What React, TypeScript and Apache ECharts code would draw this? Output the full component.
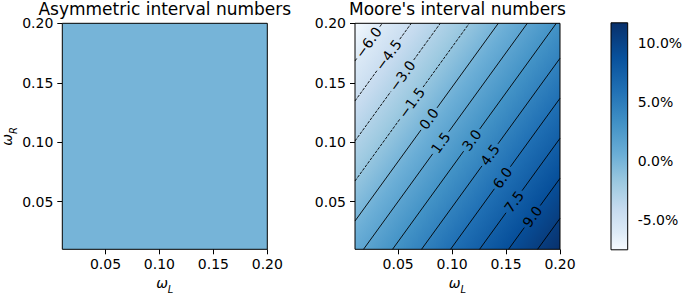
import React, { useEffect, useRef } from "react";
import * as echarts from "echarts";

// ---------------- data ----------------
const omegaRange = [0.01, 0.2];
const omegaTicks = [0.05, 0.1, 0.15, 0.2];
const panelTitles = ["Asymmetric interval numbers", "Moore's interval numbers"];
// left panel: constant relative error (%)
const asymmetricValue = 0.0;
// Moore's panel: relative error (%) at the four corners of the (ωL, ωR) square
const mooreCornerOmegaL = [0.01, 0.2, 0.01, 0.2];
const mooreCornerOmegaR = [0.01, 0.01, 0.2, 0.2];
const mooreCornerValues = [1.06, 11.66, -7.41, 3.19];
// contour levels and where (ωL) their inline labels sit
const contourLevels = [-6, -4.5, -3, -1.5, 0, 1.5, 3, 4.5, 6, 7.5, 9, 10.5];
const contourLabelOmegaL = [0.0224, 0.0409, 0.0538, 0.0625, 0.0786, 0.0894, 0.1181, 0.1351, 0.1466, 0.1574, 0.1743, null];
// colour bar
const colorbarRange = [-7.54, 11.72];
const colorbarTicks = [-5, 0, 5, 10];
const bluesColors = ["#f7fbff", "#deebf7", "#c6dbef", "#9ecae1", "#6baed6", "#4292c6", "#2171b5", "#08519c", "#08306b"];
const bluesOffsets = [0, 0.074, 0.177, 0.293, 0.42, 0.556, 0.698, 0.846, 1];

// ---------------- layout / style ----------------
const W = 685;
const H = 295;
const GRID_TOP = 23.3;
const GRID_H = 226;
const PANEL_W = 205;
const LEFT_PANEL_X = 62.3;
const RIGHT_PANEL_X = 355;
const CB_X = 611;
const CB_W = 16.7;
const FONT = "DejaVu Sans";

const bluesStops = bluesColors.map((c, i) => ({ offset: bluesOffsets[i], color: c }));

function hexRgb(h: string) {
  return [parseInt(h.slice(1, 3), 16), parseInt(h.slice(3, 5), 16), parseInt(h.slice(5, 7), 16)];
}
function bluesAt(v: number) {
  let t = (v - colorbarRange[0]) / (colorbarRange[1] - colorbarRange[0]);
  t = Math.max(0, Math.min(1, t));
  let i = 0;
  while (i < bluesOffsets.length - 2 && t > bluesOffsets[i + 1]) i++;
  const f = (t - bluesOffsets[i]) / (bluesOffsets[i + 1] - bluesOffsets[i]);
  const a = hexRgb(bluesColors[i]);
  const b = hexRgb(bluesColors[i + 1]);
  const c = a.map((x, k) => Math.round(x + (b[k] - x) * f));
  return `rgb(${c[0]},${c[1]},${c[2]})`;
}

// linear field built from the corner values
const gradL = (mooreCornerValues[1] - mooreCornerValues[0]) / (mooreCornerOmegaL[1] - mooreCornerOmegaL[0]);
const gradR = (mooreCornerValues[2] - mooreCornerValues[0]) / (mooreCornerOmegaR[2] - mooreCornerOmegaR[0]);
function fieldAt(x: number, y: number) {
  return mooreCornerValues[0] + gradL * (x - mooreCornerOmegaL[0]) + gradR * (y - mooreCornerOmegaR[0]);
}

function contourEnds(level: number): number[][] {
  const [a, b] = omegaRange;
  const corners = [
    [a, a],
    [b, a],
    [b, b],
    [a, b],
  ];
  const pts: number[][] = [];
  for (let k = 0; k < 4; k++) {
    const p = corners[k];
    const q = corners[(k + 1) % 4];
    const vp = fieldAt(p[0], p[1]);
    const vq = fieldAt(q[0], q[1]);
    if (vp === vq) continue;
    if ((vp - level) * (vq - level) <= 0) {
      const t = (level - vp) / (vq - vp);
      const pt = [p[0] + t * (q[0] - p[0]), p[1] + t * (q[1] - p[1])];
      if (!pts.some((o) => Math.abs(o[0] - pt[0]) < 1e-9 && Math.abs(o[1] - pt[1]) < 1e-9)) pts.push(pt);
    }
  }
  pts.sort((u, v) => u[0] - v[0]);
  return pts;
}

let measureCtx: CanvasRenderingContext2D | null = null;
function textWidth(s: string, size: number) {
  if (!measureCtx) measureCtx = document.createElement("canvas").getContext("2d");
  if (!measureCtx) return s.length * size * 0.6;
  measureCtx.font = `${size}px "${FONT}"`;
  return measureCtx.measureText(s).width;
}

function fmtLevel(v: number) {
  const s = Math.abs(v).toFixed(1);
  return v < 0 ? "\u2212" + s : s;
}

const tickLabelStyle = { color: "#000", fontFamily: FONT, fontSize: 14 };

function omegaAxis(kind: "x" | "y", idx: number, withName: boolean, sub: string) {
  const base: any = {
    type: "value",
    gridIndex: idx,
    min: omegaRange[0],
    max: omegaRange[1],
    axisLine: { show: false },
    splitLine: { show: false },
    axisTick: { show: true, length: 5, customValues: omegaTicks, lineStyle: { color: "#000", width: 1 } },
    axisLabel: {
      ...tickLabelStyle,
      margin: kind === "x" ? 8 : 9,
      customValues: omegaTicks,
      formatter: (v: number) => v.toFixed(2),
    },
  };
  if (withName) {
    base.name = `{w|ω}{s|${sub}}`;
    base.nameLocation = "middle";
    base.nameGap = kind === "x" ? 27 : 44;
    base.nameTextStyle = {
      rich: {
        w: { fontSize: 14, fontStyle: "italic", fontFamily: FONT, color: "#000", lineHeight: 18, verticalAlign: "top" },
        s: { fontSize: 10, fontStyle: "italic", fontFamily: FONT, color: "#000", lineHeight: 10, verticalAlign: "bottom" },
      },
    };
  }
  return base;
}

function frameRect(tl: number[], br: number[]) {
  return {
    type: "rect",
    z2: 20,
    shape: { x: tl[0], y: tl[1], width: br[0] - tl[0], height: br[1] - tl[1] },
    style: { fill: "none", stroke: "#000", lineWidth: 1 },
  };
}

export default function App() {
  const ref = useRef<HTMLDivElement>(null);
  useEffect(() => {
    if (!ref.current) return;
    const chart = echarts.init(ref.current, undefined, { renderer: "svg" });
    const [lo, hi] = omegaRange;

    const option: any = {
      animation: false,
      backgroundColor: "#fff",
      textStyle: { fontFamily: FONT },
      grid: [
        { left: LEFT_PANEL_X, top: GRID_TOP, width: PANEL_W, height: GRID_H, outerBoundsMode: "none", containLabel: false },
        { left: RIGHT_PANEL_X, top: GRID_TOP, width: PANEL_W, height: GRID_H, outerBoundsMode: "none", containLabel: false },
        { left: CB_X, top: GRID_TOP - 0.5, width: CB_W, height: GRID_H + 1, outerBoundsMode: "none", containLabel: false },
      ],
      xAxis: [
        omegaAxis("x", 0, true, "L"),
        omegaAxis("x", 1, true, "L"),
        { type: "value", gridIndex: 2, min: 0, max: 1, show: false },
      ],
      yAxis: [
        omegaAxis("y", 0, true, "R"),
        omegaAxis("y", 1, false, "R"),
        {
          type: "value",
          gridIndex: 2,
          position: "right",
          min: colorbarRange[0],
          max: colorbarRange[1],
          axisLine: { show: false },
          splitLine: { show: false },
          axisTick: { show: true, length: 5, customValues: colorbarTicks, lineStyle: { color: "#000", width: 1 } },
          axisLabel: {
            ...tickLabelStyle,
            margin: 10,
            customValues: colorbarTicks,
            formatter: (v: number) => v.toFixed(1) + "%",
          },
        },
      ],
      graphic: panelTitles.map((t, i) => ({
        type: "text",
        x: (i === 0 ? LEFT_PANEL_X : RIGHT_PANEL_X) + PANEL_W / 2,
        y: 9,
        style: { text: t, align: "center", verticalAlign: "middle", font: `17px "${FONT}"`, fill: "#000" },
      })),
      series: [
        // left panel: uniform field
        {
          type: "custom",
          xAxisIndex: 0,
          yAxisIndex: 0,
          data: [[asymmetricValue]],
          renderItem: (params: any, api: any) => {
            const tl = api.coord([lo, hi]);
            const br = api.coord([hi, lo]);
            return {
              type: "group",
              children: [
                {
                  type: "rect",
                  shape: { x: tl[0], y: tl[1], width: br[0] - tl[0], height: br[1] - tl[1] },
                  style: { fill: bluesAt(api.value(0)) },
                },
                frameRect(tl, br),
              ],
            };
          },
        },
        // right panel: linear field drawn as a gradient
        {
          type: "custom",
          xAxisIndex: 1,
          yAxisIndex: 1,
          data: [[lo, hi]],
          renderItem: (params: any, api: any) => {
            const tl = api.coord([lo, hi]);
            const br = api.coord([hi, lo]);
            const pxX = (br[0] - tl[0]) / (hi - lo);
            const pxY = (br[1] - tl[1]) / (lo - hi);
            const gx = gradL / pxX;
            const gy = gradR / pxY;
            const g2 = gx * gx + gy * gy;
            const fTL = fieldAt(lo, hi);
            const at = (v: number) => [tl[0] + ((v - fTL) * gx) / g2, tl[1] + ((v - fTL) * gy) / g2];
            const a = at(colorbarRange[0]);
            const b = at(colorbarRange[1]);
            return {
              type: "group",
              children: [
                {
                  type: "rect",
                  shape: { x: tl[0], y: tl[1], width: br[0] - tl[0], height: br[1] - tl[1] },
                  style: { fill: new echarts.graphic.LinearGradient(a[0], a[1], b[0], b[1], bluesStops, true) },
                },
                frameRect(tl, br),
              ],
            };
          },
        },
        // contour lines with inline labels
        {
          type: "custom",
          xAxisIndex: 1,
          yAxisIndex: 1,
          z: 5,
          data: contourLevels.map((l) => [lo, l]),
          renderItem: (params: any, api: any) => {
            const i = params.dataIndex;
            const level = contourLevels[i];
            const ends = contourEnds(level);
            if (ends.length < 2) return { type: "group", children: [] };
            const p1 = api.coord(ends[0]);
            const p2 = api.coord(ends[1]);
            const dx = p2[0] - p1[0];
            const dy = p2[1] - p1[1];
            const len = Math.hypot(dx, dy);
            const ux = dx / len;
            const uy = dy / len;
            const lineStyle: any = { stroke: "#000", lineWidth: 0.9 };
            if (level < 0) lineStyle.lineDash = [3, 1.3];
            const children: any[] = [];
            const lx = contourLabelOmegaL[i];
            if (lx == null) {
              children.push({ type: "line", shape: { x1: p1[0], y1: p1[1], x2: p2[0], y2: p2[1] }, style: lineStyle });
            } else {
              const ly = mooreCornerOmegaR[0] + (level - mooreCornerValues[0] - gradL * (lx - mooreCornerOmegaL[0])) / gradR;
              const c = api.coord([lx, ly]);
              const text = fmtLevel(level);
              const half = textWidth(text, 14) / 2 + 2.5;
              const t = (c[0] - p1[0]) * ux + (c[1] - p1[1]) * uy;
              if (t - half > 0) {
                children.push({
                  type: "line",
                  shape: { x1: p1[0], y1: p1[1], x2: p1[0] + ux * (t - half), y2: p1[1] + uy * (t - half) },
                  style: lineStyle,
                });
              }
              if (t + half < len) {
                children.push({
                  type: "line",
                  shape: { x1: p1[0] + ux * (t + half), y1: p1[1] + uy * (t + half), x2: p2[0], y2: p2[1] },
                  style: lineStyle,
                });
              }
              children.push({
                type: "text",
                x: c[0],
                y: c[1],
                rotation: Math.atan2(-dy, dx),
                style: { text, align: "center", verticalAlign: "middle", fontSize: 14, fontFamily: FONT, fill: "#000" },
              });
            }
            return { type: "group", children };
          },
        },
        // colour bar
        {
          type: "custom",
          xAxisIndex: 2,
          yAxisIndex: 2,
          data: [[0, colorbarRange[0]]],
          renderItem: (params: any, api: any) => {
            const tl = api.coord([0, colorbarRange[1]]);
            const br = api.coord([1, colorbarRange[0]]);
            return {
              type: "group",
              children: [
                {
                  type: "rect",
                  shape: { x: tl[0], y: tl[1], width: br[0] - tl[0], height: br[1] - tl[1] },
                  style: { fill: new echarts.graphic.LinearGradient(0, 1, 0, 0, bluesStops) },
                },
                frameRect(tl, br),
              ],
            };
          },
        },
      ],
    };
    chart.setOption(option);
    return () => chart.dispose();
  }, []);
  return <div ref={ref} style={{ position: "fixed", left: 0, top: 0, width: W, height: H }} />;
}
